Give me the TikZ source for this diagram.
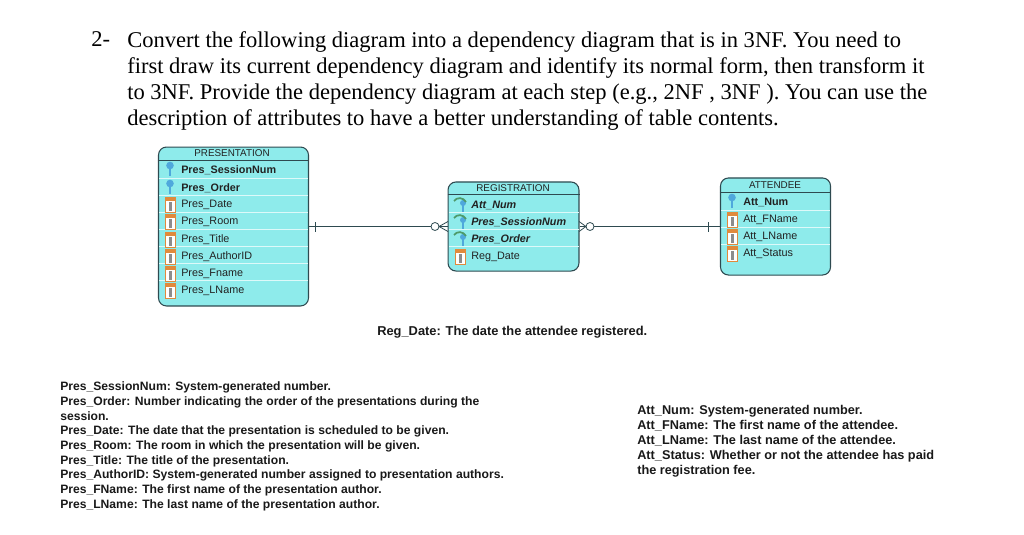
\documentclass[tikz,border=0pt]{standalone}
\usepackage{fontspec}
\setmainfont{Liberation Serif}
\setsansfont{Liberation Sans}
\definecolor{boxfill}{HTML}{8EEBEB}
\definecolor{boxline}{HTML}{2E4A50}
\definecolor{keyblue}{HTML}{4FA8DC}
\definecolor{keygreen}{HTML}{4E9A6A}
\definecolor{colorange}{HTML}{E08A3C}
\definecolor{inktext}{HTML}{222222}
\tikzset{
    entity/.style={draw=boxline, fill=boxfill, rounded corners=6pt, line width=0.8pt, inner sep=0pt},
    entitytitle/.style={font=\sffamily\fontsize{7.4}{9}\selectfont, text=inktext},
    attr/.style={font=\sffamily\fontsize{8.1}{9}\selectfont, text=inktext, anchor=west, inner sep=0pt, yshift=-0.8pt},
    attrkey/.style={attr, font=\sffamily\bfseries\fontsize{8.1}{9}\selectfont},
    attrfk/.style={attr, font=\sffamily\bfseries\itshape\fontsize{8.1}{9}\selectfont},
    heading/.style={font=\fontsize{16.9}{19.5}\selectfont, anchor=north west, inner sep=0pt, align=left},
    note/.style={font=\sffamily\bfseries\fontsize{9.1}{11.05}\selectfont, text=black!90, anchor=north west, inner sep=0pt, align=left},
    rel/.style={draw=boxline, line width=0.6pt},
    keyicon/.pic={
        \fill[keyblue] (0,-3.5) circle (3.8);
        \fill[keyblue] (-1.4,-2) rectangle (1.4,7);
    },
    fkicon/.pic={
        \fill[keyblue] (3,-1) circle (3);
        \fill[keyblue] (2,0) rectangle (4,8);
        \draw[keygreen, line width=1.3pt] (-6,-3) .. controls (-3,-7) and (3,-7) .. (6,-2);
    },
    colicon/.pic={
        \fill[white] (-5,-7) rectangle (5.5,8);
        \fill[colorange] (-5,-7) rectangle (5.5,-3.5);
        \draw[colorange, line width=0.5pt] (-5,-7) rectangle (5.5,8);
        \fill[black!45] (-1.5,-2) rectangle (1.9,6.5);
    }
}
\begin{document}
\begin{tikzpicture}[x=0.75pt, y=-0.75pt]
    \useasboundingbox (0,0) rectangle (1024,535);
    % question text
    \node[heading] (qnum) at (91,31) {2-};
    \node[heading] (question) at (127,31) {Convert the following diagram into a dependency diagram that is in 3NF. You need to\\
        first draw its current dependency diagram and identify its normal form, then transform it\\
        to 3NF. Provide the dependency diagram at each step (e.g., 2NF , 3NF ). You can use the\\
        description of attributes to have a better understanding of table contents.};
    % entities
    \node[entity, minimum width=112.5pt, minimum height=119.2pt] (presentation) at (233.5,226.5) {};
    \node[entity, minimum width=98.2pt, minimum height=66.8pt] (registration) at (513.5,226.5) {};
    \node[entity, minimum width=82.5pt, minimum height=72.8pt] (attendee) at (775.5,226.5) {};
    \draw[boxline, line width=0.7pt] (presentation.west |- 0,160.5) -- (presentation.east |- 0,160.5);
    \draw[boxline, line width=0.7pt] (registration.west |- 0,194.5) -- (registration.east |- 0,194.5);
    \draw[boxline, line width=0.7pt] (attendee.west |- 0,192.5) -- (attendee.east |- 0,192.5);
    % row separators
    \foreach \y in {178,195,212,229,246,263,280}
        \draw[white!70!boxfill, line width=0.4pt] (159,\y) -- (308,\y);
    \foreach \y in {212,229,246}
        \draw[white!70!boxfill, line width=0.4pt] (449,\y) -- (579,\y);
    \foreach \y in {210,227,244}
        \draw[white!70!boxfill, line width=0.4pt] (721,\y) -- (830,\y);
    % titles
    \node[entitytitle] (presentationtitle) at (232,153.5) {PRESENTATION};
    \node[entitytitle] (registrationtitle) at (513,188) {REGISTRATION};
    \node[entitytitle] (attendeetitle) at (775,185.5) {ATTENDEE};
    % rows of PRESENTATION
    \foreach \name/\y/\kind/\sty in {Pres\_SessionNum/169/keyicon/attrkey, Pres\_Order/187/keyicon/attrkey, Pres\_Date/204/colicon/attr, Pres\_Room/221/colicon/attr, Pres\_Title/239/colicon/attr, Pres\_AuthorID/256/colicon/attr, Pres\_Fname/273/colicon/attr, Pres\_LName/290/colicon/attr} {
        \pic at (170,\y) {\kind};
        \node[\sty] at (181,\y) {\name};
    }
    % rows of REGISTRATION
    \foreach \name/\y/\kind/\sty in {Att\_Num/204/fkicon/attrfk, Pres\_SessionNum/221/fkicon/attrfk, Pres\_Order/238/fkicon/attrfk, Reg\_Date/256/colicon/attr} {
        \pic at (460,\y) {\kind};
        \node[\sty] at (471,\y) {\name};
    }
    % rows of ATTENDEE
    \foreach \name/\y/\kind/\sty in {Att\_Num/201/keyicon/attrkey, Att\_FName/219/colicon/attr, Att\_LName/236/colicon/attr, Att\_Status/253/colicon/attr} {
        \pic at (732,\y) {\kind};
        \node[\sty] at (743,\y) {\name};
    }
    % relationships
    \draw[rel] (presentation) -- (registration);
    \draw[rel] (registration) -- (attendee);
    \draw[rel] (315,222) -- (315,232);
    \draw[rel] (708,222) -- (708,232);
    \draw[rel, fill=white] (435,226.5) circle (4);
    \draw[rel] (439,226.5) -- (448,221.5) (439,226.5) -- (448,231.5);
    \draw[rel, fill=white] (590,226.5) circle (4);
    \draw[rel] (586,226.5) -- (579,221.5) (586,226.5) -- (579,231.5);
    % descriptions
    \node[note, font=\sffamily\bfseries\fontsize{9.65}{11.2}\selectfont] (regnote) at (377,325.5) {Reg\_Date: The date the attendee registered.};
    \node[note] (presnotes) at (60,381.5) {Pres\_SessionNum: System-generated number.\\
        Pres\_Order: Number indicating the order of the presentations during the\\
        session.\\
        Pres\_Date: The date that the presentation is scheduled to be given.\\
        Pres\_Room: The room in which the presentation will be given.\\
        Pres\_Title: The title of the presentation.\\
        Pres\_AuthorID: System-generated number assigned to presentation authors.\\
        Pres\_FName: The first name of the presentation author.\\
        Pres\_LName: The last name of the presentation author.};
    \node[note, font=\sffamily\bfseries\fontsize{9.55}{11.25}\selectfont] (attnotes) at (637,405) {Att\_Num: System-generated number.\\
        Att\_FName: The first name of the attendee.\\
        Att\_LName: The last name of the attendee.\\
        Att\_Status: Whether or not the attendee has paid\\
        the registration fee.};
\end{tikzpicture}
\end{document}
